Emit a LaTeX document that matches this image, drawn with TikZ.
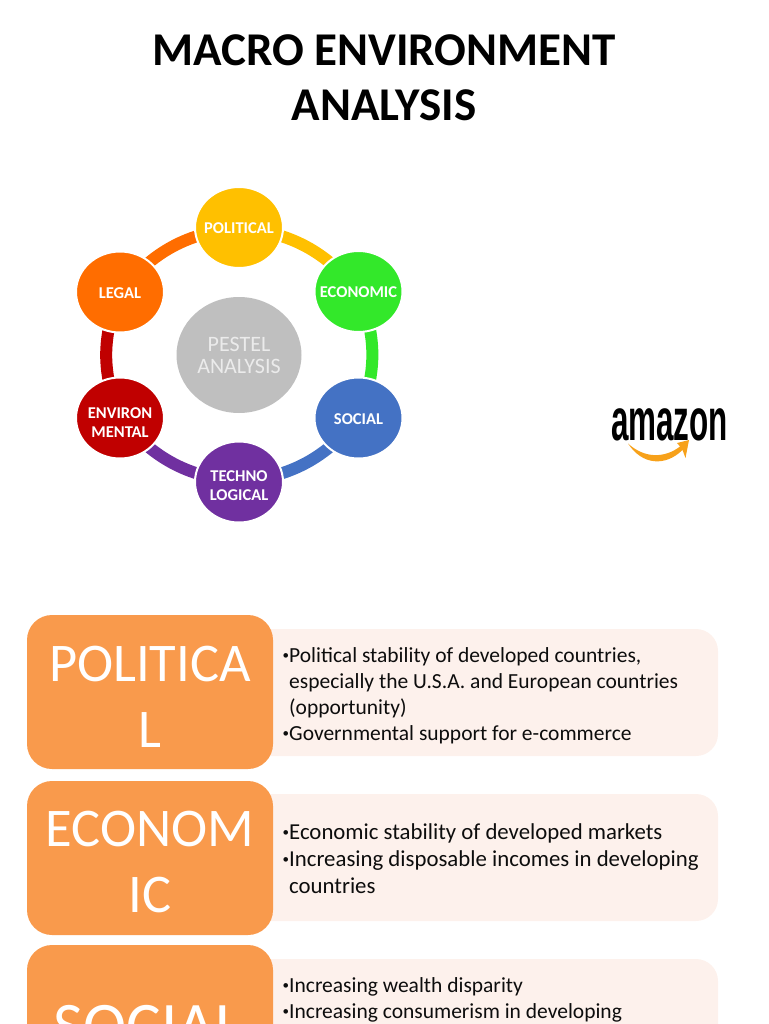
\documentclass[tikz,border=0pt]{standalone}
\usepackage{fontspec}
\setmainfont{Carlito}
\newfontfamily\logofont{Liberation Sans}
\usetikzlibrary{shapes.geometric,backgrounds}
\definecolor{boxorange}{HTML}{F99A4C}
\definecolor{boxpale}{HTML}{FDF1EC}
\definecolor{swoosh}{HTML}{F7A11A}
\definecolor{polcol}{HTML}{FFC000}
\definecolor{ecocol}{HTML}{33E82A}
\definecolor{soccol}{HTML}{4472C4}
\definecolor{teccol}{HTML}{7030A0}
\definecolor{envcol}{HTML}{C00000}
\definecolor{legcol}{HTML}{FF6D00}
\newcommand{\bul}{\llap{\raisebox{3pt}{\fontsize{13}{13}\selectfont\textbullet}}}
\begin{document}
\begin{tikzpicture}[
    x=1pt, y=-1pt,
    factor/.style={ellipse, draw=white, line width=2pt, minimum width=88pt, minimum height=81pt,
      inner sep=-12pt, align=center, text=white, font=\fontsize{16.5}{19}\selectfont\bfseries},
    ring link/.style={line width=12pt},
    head box/.style={rounded corners=25pt, fill=boxorange, minimum width=246pt, minimum height=154pt},
    head name/.style={text=white, align=center, font=\fontsize{54.5}{66}\selectfont},
    body box/.style={rounded corners=22pt, fill=boxpale},
    body text/.style={anchor=north west, inner sep=0pt, align=left, text=black!95,
      font=\fontsize{21.5}{26}\selectfont}
  ]
  \useasboundingbox (0,0) rectangle (768,1024);
  \clip (0,0) rectangle (768,1024);

  % Title
  \node[font=\fontsize{47}{55}\selectfont\bfseries, align=center] (title) at (384,78) {MACRO ENVIRONMENT\\ANALYSIS};

  % PESTEL wheel
  \node[factor, fill=black!25, minimum width=125pt, minimum height=116pt, draw=none,
    text=white!92!black, font=\fontsize{22}{22}\selectfont] (pestel) at (239,355) {PESTEL\\ANALYSIS};
  \node[factor, fill=polcol] (political) at (239,227.5) {\rule{0pt}{13pt}POLITICAL};
  \node[factor, fill=ecocol] (economic) at (358.5,291.5) {\rule{0pt}{13pt}ECONOMIC};
  \node[factor, fill=soccol] (social) at (358.5,418) {\rule{0pt}{13pt}SOCIAL};
  \node[factor, fill=teccol] (techno) at (239,482) {\rule{0pt}{18pt}TECHNO\\LOGICAL};
  \node[factor, fill=envcol] (environ) at (120,418) {\rule{0pt}{19pt}ENVIRON\\MENTAL};
  \node[factor, fill=legcol] (legal) at (120,292) {\rule{0pt}{13pt}LEGAL};

  \begin{scope}[on background layer]
    \foreach \from/\to/\col in {political/economic/polcol, economic/social/ecocol, social/techno/soccol,
        techno/environ/teccol, environ/legal/envcol, legal/political/legcol} {
      \draw[ring link, \col] (\from.center) to[bend left=22] (\to.center);
    }
  \end{scope}

  % Logo
  \node[inner sep=0pt] (amazon) at (669.5,425) {\scalebox{.515}[.97]{\logofont\bfseries\fontsize{61}{61}\selectfont amazon}};
  \fill[swoosh] (628,443.5) .. controls (645,459) and (665,458) .. (680,446.5)
    -- (677,443) -- (689,440) -- (685.5,458) -- (682.5,450)
    .. controls (665,467) and (642,465) .. (628,443.5) -- cycle;

  % Factor rows
  \fill[body box] (240,629) rectangle (718,756);
  \node[head box] (polhead) at (150,692) {};
  \node[head name] (polname) at (150,697) {POLITICA\\L};
  \node[body text] (poltext) at (289,647.5) {\bul Political stability of developed countries,\\
    especially the U.S.A. and European countries\\(opportunity)\\\bul Governmental support for e-commerce};

  \fill[body box] (240,794) rectangle (718,921);
  \node[head box] (ecohead) at (150,858) {};
  \node[head name] (econame) at (150,862) {ECONOM\\IC};
  \node[body text, font=\fontsize{22.8}{27}\selectfont] (ecotext) at (289,823.5) {\bul Economic stability of developed markets\\
    \bul Increasing disposable incomes in developing\\countries};

  \fill[body box] (240,959) rectangle (718,1086);
  \node[head box] (sochead) at (150,1022) {};
  \node[head name, font=\fontsize{65}{66}\selectfont] (socname) at (148,1027) {SOCIAL};
  \node[body text] (soctext) at (289,977.5) {\bul Increasing wealth disparity\\\bul Increasing consumerism in developing};
\end{tikzpicture}
\end{document}
